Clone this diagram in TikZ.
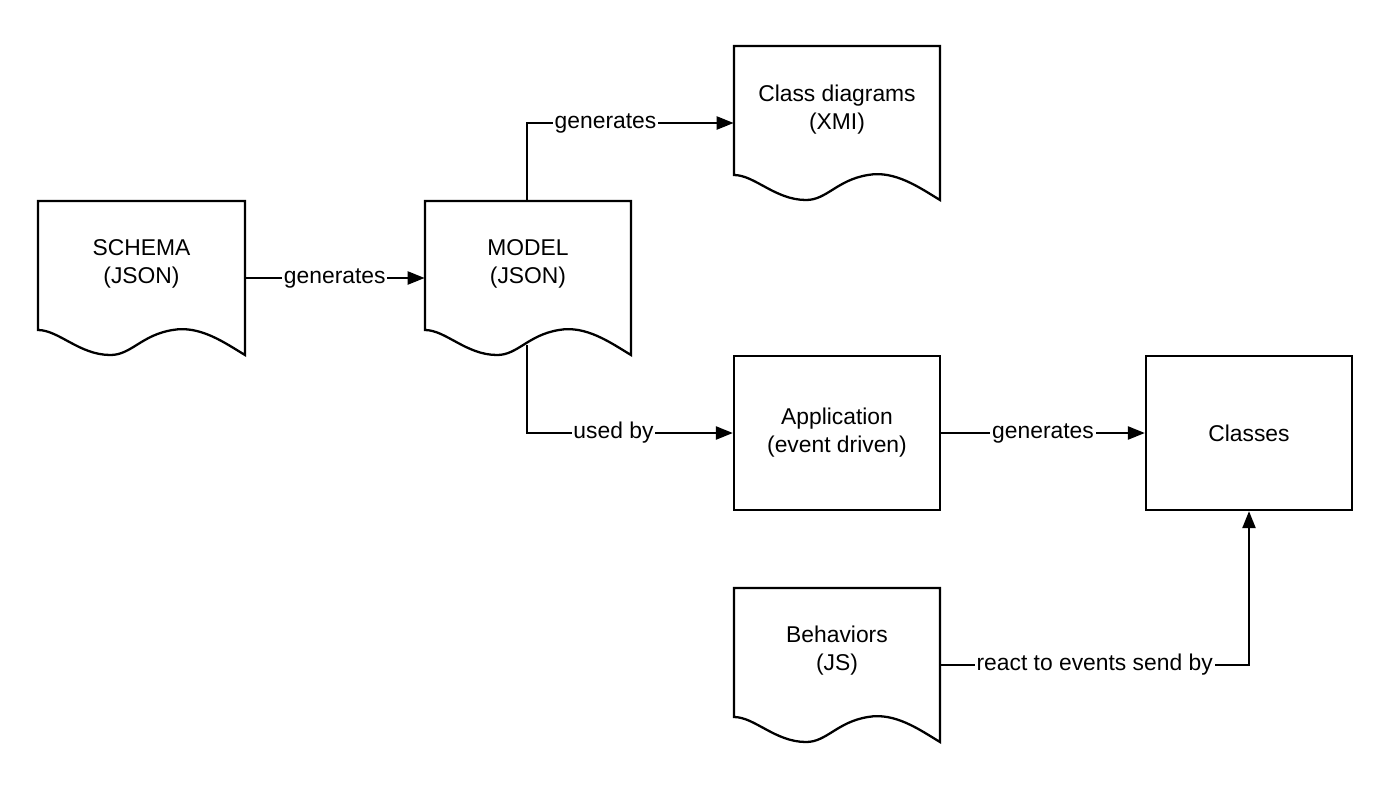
\documentclass[tikz,border=0pt]{standalone}
\usepackage{fontspec}
\setmainfont{Liberation Sans}
\usetikzlibrary{arrows.meta}
\begin{document}
\begin{tikzpicture}[x=0.02cm,y=-0.02cm,
  every node/.style={font=\fontsize{13}{16}\selectfont, align=center},
  lbl/.style={fill=white, inner sep=1pt},
  box/.style={draw, line width=1.3pt, minimum width=4.12cm, minimum height=3.08cm, inner sep=0},
  docb/.style={minimum width=4.12cm, minimum height=3.08cm, inner sep=0},
  conn/.style={line width=1.3pt, -{Triangle[length=0.34cm,width=0.26cm]}}]
\useasboundingbox (0,0) rectangle (1400,802);
\newcommand{\docwave}[4]{% L T R B
  \draw[line width=1.3pt] (#1,#4-25) -- (#1,#2) -- (#3,#2) -- (#3,#4)
    .. controls (#3-20,#4-12) and (#3-45,#4-30) .. (#1+0.65*#3-0.65*#1,#4-25)
    .. controls (#1+0.5*#3-0.5*#1,#4-20) and (#1+0.45*#3-0.45*#1,#4) .. (#1+0.35*#3-0.35*#1,#4)
    .. controls (#1+0.2*#3-0.2*#1,#4) and (#1+0.1*#3-0.1*#1,#4-25) .. (#1,#4-25) -- cycle;}
\node[docb] (schema) at (141.5,278) {};
\node[docb] (model) at (528,278) {};
\node[docb] (classd) at (837,123) {};
\node[docb] (behav) at (837,665) {};
\docwave{38}{201}{245}{355}
\docwave{425}{201}{631}{355}
\docwave{734}{46}{940}{200}
\docwave{734}{588}{940}{742}
\node at (141.5,264) {SCHEMA\\(JSON)};
\node at (528,264) {MODEL\\(JSON)};
\node at (837,110) {Class diagrams\\(XMI)};
\node at (837,651) {Behaviors\\(JS)};
\node[box] (app) at (837,433) {Application\\(event driven)};
\node[box] (cls) at (1249,433) {Classes};
\draw[conn] (schema.east) -- node[lbl]{generates} (model.west);
\draw[conn] (527,201) |- node[lbl, pos=0.69]{generates} (classd.west);
\draw[conn] (527,345) |- node[lbl, pos=0.71]{used by} (app.west);
\draw[conn] (app.east) -- node[lbl]{generates} (cls.west);
\draw[conn] (behav.east) -| node[lbl, pos=0.25]{react to events send by} (cls.south);
\end{tikzpicture}
\end{document}
